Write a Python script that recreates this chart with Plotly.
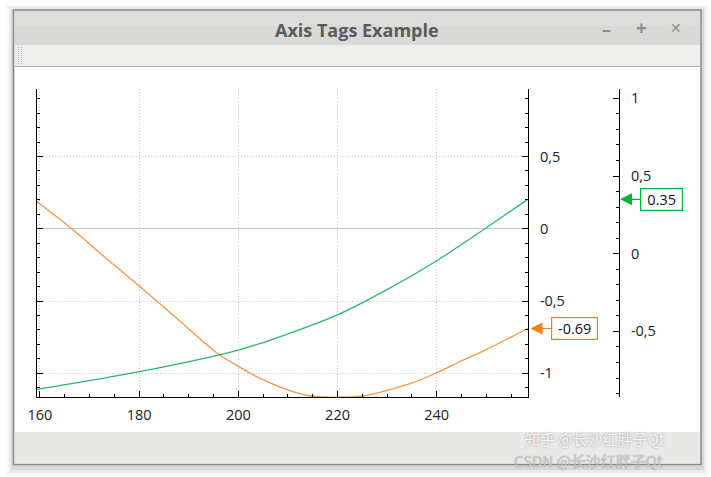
import plotly.graph_objects as go

# ---------------- data ----------------
orange_x = [159.36, 166.41, 173.2, 180.04, 188.25, 195.97, 200.0, 205.04, 210.08,
            214.46, 219.8, 225.14, 230.18, 235.21, 240.0, 245.36, 250.08, 258.35]
orange_y = [0.188, 0.0, -0.20, -0.396, -0.64, -0.866, -0.952, -1.046, -1.116,
            -1.157, -1.166, -1.157, -1.116, -1.065, -0.996, -0.908, -0.834, -0.69]

green_x = [159.36, 180.04, 200.0, 210.08, 219.96, 230.24, 240.0, 250.08, 258.35]
green_y = [-0.873, -0.759, -0.620, -0.515, -0.394, -0.226, -0.045, 0.169, 0.350]

x_tickvals = [160, 180, 200, 220, 240]
y1_tickvals = [-1, -0.5, 0, 0.5]
y1_ticktext = ["-1", "-0,5", "0", "0,5"]
y2_tickvals = [-0.5, 0, 0.5, 1]
y2_ticktext = ["-0,5", "0", "0,5", "1"]

tag_orange = "-0.69"
tag_orange_val = -0.69
tag_green = "0.35"
tag_green_val = 0.35

title_text = "Axis Tags Example"
watermark1 = "知乎 @长沙红胖子Qt"
watermark2 = "CSDN @长沙红胖子Qt"

# ---------------- geometry helpers ----------------
W, H = 711, 477


def fx(px):
    return px / W


def fy(py):
    return 1 - py / H


ORANGE = "rgb(248,125,20)"
GREEN = "rgb(0,180,60)"
FONT = "Open Sans"

fig = go.Figure()
fig.add_trace(go.Scatter(x=orange_x, y=orange_y, mode="lines",
                         line=dict(color="rgb(246,150,62)", width=1.3, shape="spline"),
                         yaxis="y", hoverinfo="skip", showlegend=False))
fig.add_trace(go.Scatter(x=green_x, y=green_y, mode="lines",
                         line=dict(color="rgb(40,186,100)", width=1.3, shape="spline"),
                         yaxis="y2", hoverinfo="skip", showlegend=False))

plot_left, plot_right, plot_top, plot_bottom = 36.7, 528.0, 89.3, 397.3
ydom = [fy(plot_bottom), fy(plot_top)]
tickfont = dict(family=FONT, size=14.5, color="#222222")

shapes = []


def rect(x0, y0, x1, y1, fill, line=None, lw=0, layer="below"):
    shapes.append(dict(type="rect", xref="paper", yref="paper",
                       x0=fx(x0), x1=fx(x1), y0=fy(y1), y1=fy(y0),
                       fillcolor=fill, line=dict(color=line or fill, width=lw),
                       layer=layer))


# shadow around the window
rect(6, 5, 709, 476, "rgba(0,0,0,0.03)")
rect(9, 7, 706, 473, "rgba(0,0,0,0.05)")
rect(11, 9, 704, 470, "rgba(0,0,0,0.08)")
# window body
rect(13.5, 10, 701, 464.5, "#e9eae8", "#8a8a8a", 1.5)
# title bar
rect(15, 11, 700, 45, "#d9d9d7")
rect(15, 11, 700, 26, "#dddddb")
# toolbar
rect(15, 45, 700, 66, "#eeeeec")
shapes.append(dict(type="line", xref="paper", yref="paper", x0=fx(15), x1=fx(700),
                   y0=fy(66.5), y1=fy(66.5), line=dict(color="#b4b4b2", width=1),
                   layer="below"))
for gx in (18.5, 21.5):
    shapes.append(dict(type="line", xref="paper", yref="paper", x0=fx(gx), x1=fx(gx),
                       y0=fy(47), y1=fy(64), line=dict(color="#b8b8b8", width=1, dash="1px,1px"),
                       layer="below"))
# content
rect(15, 67, 700, 432, "#ffffff")
# status bar
rect(15, 432, 700, 463.5, "#e8e9e7")


def label(text, px, py, font):
    return dict(text=text, x=fx(px), y=fy(py), xref="paper", yref="paper",
                xanchor="center", yanchor="middle", showarrow=False, font=font)


annotations = [
    label(title_text, 357, 30, dict(family=FONT, size=18, color="#5b5b5b", weight="bold")),
    label("–", 606, 29, dict(family=FONT, size=18, color="#8c8c8c", weight="bold")),
    label("+", 641, 28, dict(family=FONT, size=19, color="#8c8c8c", weight="bold")),
    label("✕", 676, 28, dict(family="DejaVu Sans", size=14, color="#8c8c8c", weight="bold")),
    # axis tags
    dict(text=tag_green, x=fx(620), xref="paper", y=tag_green_val, yref="y2",
         showarrow=True, ax=41.5, ay=0, arrowhead=2, arrowsize=2.0, arrowwidth=1.2,
         arrowcolor=GREEN, bordercolor=GREEN, borderwidth=1.2, borderpad=1,
         width=39, height=19,
         bgcolor="white", font=dict(family=FONT, size=14.5, color="#111111")),
    dict(text=tag_orange, x=fx(530.5), xref="paper", y=tag_orange_val, yref="y",
         showarrow=True, ax=44, ay=0, arrowhead=2, arrowsize=2.0, arrowwidth=1.2,
         arrowcolor=ORANGE, bordercolor=ORANGE, borderwidth=1.2, borderpad=1,
         width=43, height=19,
         bgcolor="white", font=dict(family=FONT, size=14.5, color="#111111")),
    # watermark
    label(watermark1, 594.5, 438, dict(family="Noto Sans CJK SC", size=15,
                                       color="rgba(255,255,255,0.9)",
                                       shadow="0px 0px 2px #8a8a8a")),
    label(watermark2, 588, 460.5, dict(family="Noto Sans CJK SC", size=15,
                                       color="rgba(215,215,215,0.8)",
                                       shadow="0px 0px 1px #7a7a7a")),
]

fig.update_layout(
    width=W, height=H, margin=dict(l=0, r=0, t=0, b=0, autoexpand=False),
    autosize=False,
    paper_bgcolor="#ffffff", plot_bgcolor="rgba(0,0,0,0)",
    separators=",.",
    showlegend=False,
    shapes=shapes, annotations=annotations,
    xaxis=dict(range=[159.35, 258.4], domain=[fx(plot_left), fx(plot_right)],
               anchor="y", showline=True, linecolor="#000000", linewidth=1,
               ticks="inside", ticklen=6, tickcolor="#000000", tickwidth=1,
               tickmode="array", tickvals=x_tickvals,
               minor=dict(ticks="inside", ticklen=3, dtick=5, tick0=0,
                          tickcolor="#000000", showgrid=False),
               showgrid=True, gridcolor="#c8c8c8", griddash="1px,2px", gridwidth=1,
               zeroline=False, tickfont=tickfont, ticklabelstandoff=4,
               automargin=False, fixedrange=True),
    yaxis=dict(range=[-1.166, 0.965], domain=ydom, anchor="x", side="right",
               showline=True, mirror="ticks", linecolor="#000000", linewidth=1,
               ticks="inside", ticklen=6, tickcolor="#000000", tickwidth=1,
               tickmode="array", tickvals=y1_tickvals, ticktext=y1_ticktext,
               minor=dict(ticks="inside", ticklen=3, dtick=0.1, tick0=0,
                          tickcolor="#000000", showgrid=False),
               showgrid=True, gridcolor="#c8c8c8", griddash="1px,2px", gridwidth=1,
               zeroline=True, zerolinecolor="#c8c8c8", zerolinewidth=1,
               tickfont=tickfont, ticklabelstandoff=8, automargin=False,
               fixedrange=True),
    yaxis2=dict(range=[-0.924, 1.058], overlaying="y", anchor="free",
                position=fx(619), side="right",
                showline=True, linecolor="#000000", linewidth=1,
                ticks="inside", ticklen=6, tickcolor="#000000", tickwidth=1,
                tickmode="array", tickvals=y2_tickvals, ticktext=y2_ticktext,
                minor=dict(ticks="inside", ticklen=3, dtick=0.1, tick0=0,
                           tickcolor="#000000", showgrid=False),
                showgrid=False, zeroline=False, tickfont=tickfont,
                ticklabelstandoff=8, automargin=False, fixedrange=True),
)

fig.write_html(
    "out.html",
    config={"displayModeBar": False, "responsive": False},
    post_script=("document.body.style.margin='0';"
                 "document.body.style.overflow='hidden';"
                 "var d=document.getElementById('{plot_id}');"
                 "d.style.position='absolute';d.style.left='0px';d.style.top='0px';"),
)
